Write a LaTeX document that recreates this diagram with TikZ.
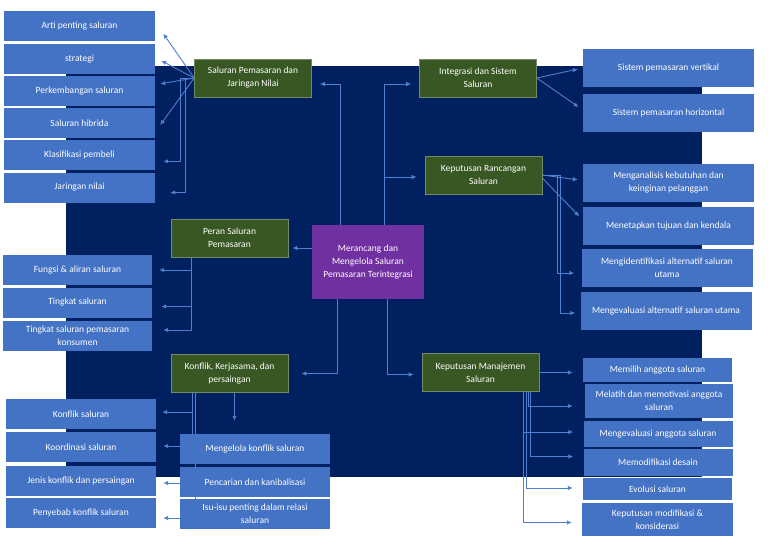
\documentclass[tikz,border=0pt]{standalone}
\usepackage{fontspec}
\setmainfont{Carlito}
\usetikzlibrary{arrows.meta}
\definecolor{navy}{HTML}{002060}
\definecolor{bxblue}{HTML}{4472C4}
\definecolor{grn}{HTML}{385723}
\definecolor{ppl}{HTML}{7030A0}
\definecolor{ln}{HTML}{4F7FD0}
\pgfdeclarelayer{bg}
\pgfdeclarelayer{lines}
\pgfsetlayers{bg,lines,main}

\begin{document}
\begin{tikzpicture}[
  x=1pt, y=-1pt,
  font=\fontsize{9.5}{13}\selectfont,
  sub/.style={fill=bxblue, text=white, align=center, inner sep=2pt, minimum width=151pt, minimum height=30pt},
  topic/.style={fill=grn, draw=grn!70!white, line width=0.6pt, text=white, align=center, inner sep=2pt, minimum width=117pt, minimum height=38pt},
  core/.style={fill=ppl, text=white, align=center, inner sep=2pt, minimum width=112pt, minimum height=74pt},
  arr/.style={-{Latex[length=5pt,width=4.5pt]}, line width=0.9pt, draw=ln, shorten >=8pt},
]
\useasboundingbox (0,0) rectangle (768,543);
\begin{pgfonlayer}{bg}
\fill[white] (0,0) rectangle (768,543);
\fill[navy] (66,66) rectangle (702,477);
\end{pgfonlayer}

% pusat
\node[core] (main) at (368,262) {Merancang dan\\Mengelola Saluran\\Pemasaran Terintegrasi};

% topik
\node[topic] (salpem) at (253,78) {Saluran Pemasaran dan\\Jaringan Nilai};
\node[topic] (integ) at (478,78) {Integrasi dan Sistem\\Saluran};
\node[topic] (kran) at (483.5,175) {Keputusan Rancangan\\Saluran};
\node[topic] (peran) at (229.5,238) {Peran Saluran\\Pemasaran};
\node[topic] (konflik) at (229.5,373.5) {Konflik, Kerjasama, dan\\persaingan};
\node[topic] (kman) at (480.5,372.5) {Keputusan Manajemen\\Saluran};

% kiri atas
\node[sub] (arti) at (79.5,26.5) {Arti penting saluran};
\node[sub] (strat) at (79.5,58.7) {strategi};
\node[sub] (perk) at (79.5,90.9) {Perkembangan saluran};
\node[sub] (hibrida) at (79.5,123.1) {Saluran hibrida};
\node[sub] (klas) at (79.5,155.3) {Klasifikasi pembeli};
\node[sub] (jar) at (79.5,187.5) {Jaringan nilai};

% kanan atas
\node[sub, minimum width=171pt, minimum height=38pt] (svert) at (668.5,68) {Sistem pemasaran vertikal};
\node[sub, minimum width=171pt, minimum height=38pt] (shoriz) at (668.5,113) {Sistem pemasaran horizontal};
\node[sub, minimum width=171pt, minimum height=38pt] (analisis) at (668.5,182.5) {Menganalisis kebutuhan dan\\keinginan pelanggan};
\node[sub, minimum width=171pt, minimum height=38pt] (tetap) at (668.5,226) {Menetapkan tujuan dan kendala};
\node[sub, minimum width=171pt, minimum height=38pt] (ident) at (667,268) {Mengidentifikasi alternatif saluran\\utama};
\node[sub, minimum width=171pt, minimum height=38pt] (evalt) at (666,311) {Mengevaluasi alternatif saluran utama};

% kiri tengah
\node[sub, minimum width=149pt] (fungsi) at (77.5,270) {Fungsi \& aliran saluran};
\node[sub, minimum width=149pt] (tingkat) at (77.5,302.5) {Tingkat saluran};
\node[sub, minimum width=149pt] (konsumen) at (77.5,336) {Tingkat saluran pemasaran\\konsumen};

% kiri bawah
\node[sub, minimum width=150pt] (ksal) at (81,414) {Konflik saluran};
\node[sub, minimum width=150pt] (koord) at (81,447) {Koordinasi saluran};
\node[sub, minimum width=150pt] (jenis) at (81,481) {Jenis konflik dan persaingan};
\node[sub, minimum width=150pt] (penyebab) at (81,513) {Penyebab konflik saluran};
\node[sub, minimum width=150pt] (mengelola) at (255,449) {Mengelola konflik saluran};
\node[sub, minimum width=150pt] (pencarian) at (255,482) {Pencarian dan kanibalisasi};
\node[sub, minimum width=150pt] (isu) at (255,514) {Isu-isu penting dalam relasi\\saluran};

% kanan bawah
\node[sub, minimum width=149pt, minimum height=24pt] (memilih) at (657.5,370) {Memilih anggota saluran};
\node[sub, minimum width=148pt, minimum height=34pt] (melatih) at (659,401) {Melatih dan memotivasi anggota\\saluran};
\node[sub, minimum width=149pt, minimum height=26pt] (mevang) at (658,434) {Mengevaluasi anggota saluran};
\node[sub, minimum width=149pt, minimum height=27pt] (memod) at (658,462.5) {Memodifikasi desain};
\node[sub, minimum width=149pt, minimum height=22pt] (evolusi) at (657.5,489) {Evolusi saluran};
\node[sub, minimum width=151pt, minimum height=33pt] (kmod) at (657.5,519.5) {Keputusan modifikasi \&\\konsiderasi};

\begin{pgfonlayer}{lines}
% dari pusat
\draw[arr] ([xshift=-28pt]main.north) |- ([yshift=-6pt]salpem.east);
\draw[arr] ([xshift=16pt]main.north) |- ([yshift=-6pt]integ.west);
\draw[arr] ([xshift=16pt]main.north) |- ([yshift=-2pt]kran.west);
\draw[arr, shorten >=4pt] ([yshift=14pt]main.west) -- ([yshift=14pt]main.west -| peran.east);
\draw[arr, shorten >=13pt] ([xshift=-31pt]main.south) |- (konflik.east);
\draw[arr] ([xshift=19pt]main.south) |- ([yshift=-2pt]kman.west);

% saluran pemasaran
\draw[arr, shorten >=0pt] (salpem.west) -- ([xshift=8pt,yshift=-7pt]arti.east);
\draw[arr, shorten >=0pt] (salpem.west) -- ([xshift=6pt,yshift=-2pt]strat.east);
\draw[arr, shorten >=0pt] (salpem.west) -- ([xshift=5pt,yshift=7pt]perk.east);
\draw[arr, shorten >=0pt] (salpem.west) -- ([xshift=5pt,yshift=-2pt]hibrida.east);
\draw[arr] (salpem.west) -- ++(-14,0) |- ([yshift=-6pt]klas.east);
\draw[arr, shorten >=15pt] (salpem.west) -- ++(-9,0) |- ([yshift=-5pt]jar.east);

% integrasi & rancangan
\draw[arr, shorten >=5pt] (integ.east) -- (svert.west);
\draw[arr, shorten >=5pt] (integ.east) -- ([yshift=3pt]shoriz.west);
\draw[arr, shorten >=5pt] (kran.east) -- ([yshift=2pt]analisis.west);
\draw[arr, shorten >=5pt] ([yshift=-3pt]kran.east) -- ([yshift=6pt]tetap.west);
\draw[arr, shorten >=7pt] (kran.east) -- ++(15,0) |- ([yshift=-5pt]ident.west);
\draw[arr, shorten >=5pt] (kran.east) -- ++(18,0) |- ([yshift=-2pt]evalt.west);

% peran
\draw[arr, shorten >=7pt] ([xshift=-38pt]peran.south) |- (fungsi.east);
\draw[arr, shorten >=9pt] ([xshift=-38pt]peran.south) |- ([yshift=-4pt]tingkat.east);
\draw[arr, shorten >=11pt] ([xshift=-38pt]peran.south) |- ([yshift=6pt]konsumen.east);

% konflik
\draw[arr, shorten >=6pt] ([xshift=-37pt]konflik.south) |- ([yshift=2pt]ksal.east);
\draw[arr, shorten >=7pt] ([xshift=-37pt]konflik.south) |- ([yshift=1pt]koord.east);
\draw[arr, shorten >=7pt] ([xshift=-34pt]konflik.south) |- ([yshift=-2pt]jenis.east);
\draw[arr, shorten >=7pt] ([xshift=-34pt]konflik.south) |- ([yshift=-5pt]penyebab.east);
\draw[arr, shorten >=13pt] ([xshift=5pt]konflik.south) -- ([xshift=5pt]konflik.south |- mengelola.north);

% manajemen
\draw[arr, shorten >=10pt] (kman.east) -- (kman.east -| memilih.west);
\draw[arr, shorten >=12pt] ([xshift=48pt]kman.south) |- ([yshift=-5pt]melatih.west);
\draw[arr, shorten >=10pt] ([xshift=43pt]kman.south) |- ([yshift=2pt]mevang.west);
\draw[arr, shorten >=10pt] ([xshift=50pt]kman.south) |- ([yshift=6pt]memod.west);
\draw[arr, shorten >=10pt] ([xshift=46pt]kman.south) |- ([yshift=1pt]evolusi.west);
\draw[arr, shorten >=10pt] ([xshift=43pt]kman.south) |- ([yshift=-3pt]kmod.west);
\end{pgfonlayer}
\end{tikzpicture}
\end{document}
